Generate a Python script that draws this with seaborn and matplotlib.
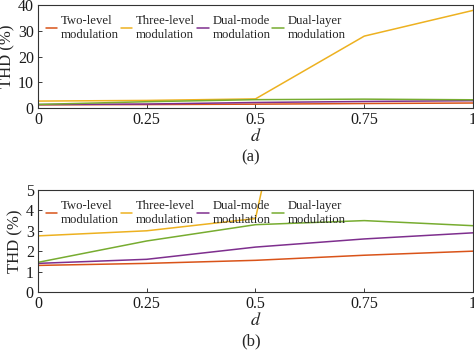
import pandas as pd
import seaborn as sns
import matplotlib.pyplot as plt
import numpy as np

d = [0, 0.25, 0.5, 0.75, 1]
two_level = [1.3, 1.4, 1.55, 1.8, 2.0]
three_level = [2.75, 3.0, 3.6, 28.0, 38.0]
dual_mode = [1.4, 1.6, 2.2, 2.6, 2.9]
dual_layer = [1.45, 2.5, 3.3, 3.5, 3.25]

names = ['Two-level\nmodulation', 'Three-level\nmodulation',
         'Dual-mode\nmodulation', 'Dual-layer\nmodulation']
colors = ['#D95319', '#EDB120', '#7E2F8E', '#77AC30']

df = pd.DataFrame({
    'd': d * 4,
    'thd': two_level + three_level + dual_mode + dual_layer,
    'method': [n for n in names for _ in d],
})

sns.set_style('ticks')
plt.rcParams['font.family'] = ['Liberation Serif', 'DejaVu Serif']
plt.rcParams['mathtext.fontset'] = 'stix'
plt.rcParams['xtick.direction'] = 'in'
plt.rcParams['ytick.direction'] = 'in'

fig = plt.figure(figsize=(4.74, 3.5), dpi=100)
ax1 = fig.add_axes([0.080, 0.691, 0.918, 0.294])
ax2 = fig.add_axes([0.080, 0.166, 0.918, 0.291])

for ax, ymax, yticks, lab in [(ax1, 40, [0, 10, 20, 30, 40], '(a)'),
                              (ax2, 5, [0, 1, 2, 3, 4, 5], '(b)')]:
    sns.lineplot(data=df, x='d', y='thd', hue='method', palette=colors,
                 linewidth=1.1, ax=ax)
    ax.set_xlim(0, 1)
    ax.set_ylim(0, ymax)
    ax.set_xticks(d)
    ax.set_xticklabels(['0', '0.25', '0.5', '0.75', '1'])
    ax.set_yticks(yticks)
    ax.tick_params(labelsize=11.5, length=3, width=0.6, colors='#1a1a1a', pad=3)
    for s in ax.spines.values():
        s.set_linewidth(0.8)
        s.set_color('#333333')
    ax.set_xlabel('$d$', fontsize=13, labelpad=0)
    ax.set_ylabel('THD (%)', fontsize=12, labelpad=2)
    ax.legend(loc='upper left', bbox_to_anchor=(0.0, 0.98), ncol=4,
              frameon=False, fontsize=9.2, handlelength=0.9, handletextpad=0.3,
              columnspacing=0.15, borderaxespad=0.2, labelspacing=0.2)
    pos = ax.get_position()
    fig.text(pos.x0 + pos.width / 2 - 0.01, pos.y0 - 0.14, lab,
             ha='center', va='center', fontsize=12)

plt.savefig('out.png', dpi=100)
